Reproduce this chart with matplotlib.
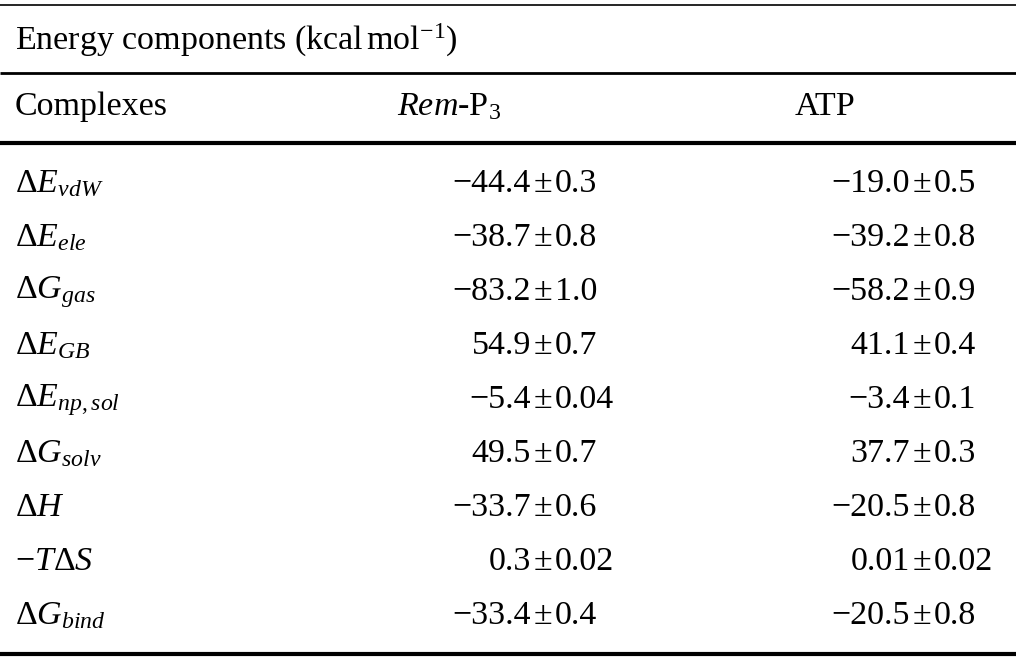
import matplotlib
matplotlib.use("Agg")
import matplotlib.pyplot as plt

plt.rcParams["font.family"] = ["Liberation Serif", "DejaVu Serif"]
plt.rcParams["mathtext.fontset"] = "custom"
plt.rcParams["mathtext.rm"] = "Liberation Serif"
plt.rcParams["mathtext.it"] = "Liberation Serif:italic"

TITLE = r"Energy components (kcal$\,$mol$^{-1}$)"
HEADERS = ["Complexes", r"$\mathit{Rem}$-P$_3$", "ATP"]
LABELS = [
    r"$\mathit{ΔE_{vdW}}$",
    r"$\mathit{ΔE_{ele}}$",
    r"$\mathit{ΔG_{gas}}$",
    r"$\mathit{ΔE_{GB}}$",
    r"$\mathit{ΔE_{np,sol}}$",
    r"$\mathit{ΔG_{solv}}$",
    r"$\mathit{ΔH}$",
    r"$-\mathit{TΔS}$",
    r"$\mathit{ΔG_{bind}}$",
]
REM_MEAN = ["−44.4", "−38.7", "−83.2", "54.9", "−5.4", "49.5", "−33.7", "0.3", "−33.4"]
REM_ERR = ["0.3", "0.8", "1.0", "0.7", "0.04", "0.7", "0.6", "0.02", "0.4"]
ATP_MEAN = ["−19.0", "−39.2", "−58.2", "41.1", "−3.4", "37.7", "−20.5", "0.01", "−20.5"]
ATP_ERR = ["0.5", "0.8", "0.9", "0.4", "0.1", "0.3", "0.8", "0.02", "0.8"]

W, H = 1016, 657
fig = plt.figure(figsize=(W / 100, H / 100), dpi=100)
ax = fig.add_axes([0, 0, 1, 1])
ax.set_xlim(0, W)
ax.set_ylim(H, 0)
ax.axis("off")

fs = 24.5
ax.hlines(5, 0, W, color="black", lw=1.2)
ax.hlines(73, 0, W, color="black", lw=2.0)
ax.hlines(143, 0, W, color="black", lw=3.0)
ax.hlines(654, 0, W, color="black", lw=3.0)

ax.text(15, 40, TITLE, fontsize=fs, va="center", ha="left")
for x, h in zip([15, 397, 795], HEADERS):
    ax.text(x, 107, h, fontsize=fs, va="center", ha="left")

pm_x = [543, 922]
for i, lab in enumerate(LABELS):
    y = 184 + i * 54
    ax.text(15, y, lab, fontsize=fs, va="center", ha="left")
    for px, mean, err in ((pm_x[0], REM_MEAN[i], REM_ERR[i]), (pm_x[1], ATP_MEAN[i], ATP_ERR[i])):
        ax.text(px - 12, y, mean, fontsize=fs, va="center", ha="right")
        ax.text(px, y, "±", fontsize=fs, va="center", ha="center")
        ax.text(px + 12, y, err, fontsize=fs, va="center", ha="left")

fig.savefig("out.png", dpi=100)
